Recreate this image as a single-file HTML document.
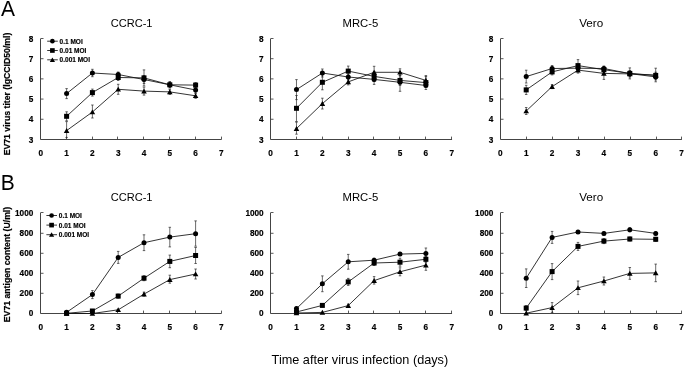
<!DOCTYPE html>
<html lang="en"><head><meta charset="utf-8"><title>EV71 growth in CCRC-1, MRC-5 and Vero cells</title>
<style>
html,body{margin:0;padding:0;background:#fff}
body{width:685px;height:367px;overflow:hidden}
svg{display:block}
text{font-family:"Liberation Sans",Arial,Helvetica,sans-serif;fill:#000}
.tk{font-size:8.6px;font-weight:bold;stroke:#000;stroke-width:0.18px}
.lg{font-size:6.5px;font-weight:bold;stroke:#000;stroke-width:0.15px}
.tt{font-size:11.2px}
.pl{font-size:21px}
.yl{font-size:8.7px;font-weight:bold;stroke:#000;stroke-width:0.2px}
.xl{font-size:12.7px}
</style></head><body>
<svg width="685" height="367" viewBox="0 0 685 367">
<rect width="685" height="367" fill="#fff"/>
<path d="M40.50 38.50V139.50H221.70" fill="none" stroke="#3a3a3a" stroke-width="0.95"/>
<path d="M40.90 119.26h2.6M40.90 99.07h2.6M40.90 78.88h2.6M40.90 58.69h2.6M40.90 38.50h2.6M66.50 139.10v-2.5M92.50 139.10v-2.5M117.50 139.10v-2.5M143.50 139.10v-2.5M169.50 139.10v-2.5M195.50 139.10v-2.5M221.50 139.10v-2.5" fill="none" stroke="#3a3a3a" stroke-width="0.85"/>
<text class="tk" transform="translate(33.30 142.55) scale(0.96 1)" text-anchor="end">3</text>
<text class="tk" transform="translate(33.30 122.36) scale(0.96 1)" text-anchor="end">4</text>
<text class="tk" transform="translate(33.30 102.17) scale(0.96 1)" text-anchor="end">5</text>
<text class="tk" transform="translate(33.30 81.98) scale(0.96 1)" text-anchor="end">6</text>
<text class="tk" transform="translate(33.30 61.79) scale(0.96 1)" text-anchor="end">7</text>
<text class="tk" transform="translate(33.30 41.60) scale(0.96 1)" text-anchor="end">8</text>
<text class="tk" transform="translate(40.80 155.65) scale(0.96 1)" text-anchor="middle">0</text>
<text class="tk" transform="translate(66.60 155.65) scale(0.96 1)" text-anchor="middle">1</text>
<text class="tk" transform="translate(92.40 155.65) scale(0.96 1)" text-anchor="middle">2</text>
<text class="tk" transform="translate(118.20 155.65) scale(0.96 1)" text-anchor="middle">3</text>
<text class="tk" transform="translate(144.00 155.65) scale(0.96 1)" text-anchor="middle">4</text>
<text class="tk" transform="translate(169.80 155.65) scale(0.96 1)" text-anchor="middle">5</text>
<text class="tk" transform="translate(195.60 155.65) scale(0.96 1)" text-anchor="middle">6</text>
<text class="tk" transform="translate(221.40 155.65) scale(0.96 1)" text-anchor="middle">7</text>
<text class="tt" transform="translate(110.70 27.30) scale(0.99 1.05)">CCRC-1</text>
<path d="M66.60 88.60V98.60M65.35 88.60h2.5M65.35 98.60h2.5M92.40 69.30V76.70M91.15 69.30h2.5M91.15 76.70h2.5M118.20 72.00V77.00M116.95 72.00h2.5M116.95 77.00h2.5M144.00 75.50V83.50M142.75 75.50h2.5M142.75 83.50h2.5M169.80 81.80V87.80M168.55 81.80h2.5M168.55 87.80h2.5M195.60 87.00V93.00M194.35 87.00h2.5M194.35 93.00h2.5M66.60 111.80V120.80M65.35 111.80h2.5M65.35 120.80h2.5M92.40 89.10V96.10M91.15 89.10h2.5M91.15 96.10h2.5M118.20 74.50V80.50M116.95 74.50h2.5M116.95 80.50h2.5M144.00 69.90V85.90M142.75 69.90h2.5M142.75 85.90h2.5M169.80 81.80V87.80M168.55 81.80h2.5M168.55 87.80h2.5M195.60 82.60V87.60M194.35 82.60h2.5M194.35 87.60h2.5M66.60 121.60V137.60M65.35 121.60h2.5M65.35 137.60h2.5M92.40 105.00V118.00M91.15 105.00h2.5M91.15 118.00h2.5M118.20 84.30V94.30M116.95 84.30h2.5M116.95 94.30h2.5M144.00 87.10V95.10M142.75 87.10h2.5M142.75 95.10h2.5M169.80 89.40V94.40M168.55 89.40h2.5M168.55 94.40h2.5M195.60 93.30V98.30M194.35 93.30h2.5M194.35 98.30h2.5" fill="none" stroke="#2a2a2a" stroke-width="0.7"/>
<polyline points="66.60,93.60 92.40,73.00 118.20,74.50 144.00,79.50 169.80,84.80 195.60,90.00" fill="none" stroke="#111" stroke-width="0.85"/>
<polyline points="66.60,116.30 92.40,92.60 118.20,77.50 144.00,77.90 169.80,84.80 195.60,85.10" fill="none" stroke="#111" stroke-width="0.85"/>
<polyline points="66.60,130.60 92.40,112.00 118.20,89.30 144.00,91.10 169.80,91.90 195.60,95.80" fill="none" stroke="#111" stroke-width="0.85"/>
<g fill="#000"><circle cx="66.60" cy="93.60" r="2.50"/><circle cx="92.40" cy="73.00" r="2.50"/><circle cx="118.20" cy="74.50" r="2.50"/><circle cx="144.00" cy="79.50" r="2.50"/><circle cx="169.80" cy="84.80" r="2.50"/><circle cx="195.60" cy="90.00" r="2.50"/></g>
<g fill="#000"><rect x="64.10" y="113.80" width="5.00" height="5.00"/><rect x="89.90" y="90.10" width="5.00" height="5.00"/><rect x="115.70" y="75.00" width="5.00" height="5.00"/><rect x="141.50" y="75.40" width="5.00" height="5.00"/><rect x="167.30" y="82.30" width="5.00" height="5.00"/><rect x="193.10" y="82.60" width="5.00" height="5.00"/></g>
<g fill="#000"><path d="M66.60 128.00L69.40 132.90L63.80 132.90Z"/><path d="M92.40 109.40L95.20 114.30L89.60 114.30Z"/><path d="M118.20 86.70L121.00 91.60L115.40 91.60Z"/><path d="M144.00 88.50L146.80 93.40L141.20 93.40Z"/><path d="M169.80 89.30L172.60 94.20L167.00 94.20Z"/><path d="M195.60 93.20L198.40 98.10L192.80 98.10Z"/></g>
<path d="M47.20 41.20h10.6" stroke="#111" stroke-width="0.85"/>
<g fill="#000"><circle cx="52.40" cy="41.20" r="2.33"/></g>
<text class="lg" x="59.60" y="43.60">0.1 MOI</text>
<path d="M47.20 50.50h10.6" stroke="#111" stroke-width="0.85"/>
<g fill="#000"><rect x="50.07" y="48.17" width="4.65" height="4.65"/></g>
<text class="lg" x="59.60" y="52.90">0.01 MOI</text>
<path d="M47.20 59.80h10.6" stroke="#111" stroke-width="0.85"/>
<g fill="#000"><path d="M52.40 57.38L55.00 61.94L49.80 61.94Z"/></g>
<text class="lg" x="59.60" y="62.20">0.001 MOI</text>
<path d="M270.50 38.50V139.50H452.06" fill="none" stroke="#3a3a3a" stroke-width="0.95"/>
<path d="M270.90 119.26h2.6M270.90 99.07h2.6M270.90 78.88h2.6M270.90 58.69h2.6M270.90 38.50h2.6M296.50 139.10v-2.5M322.50 139.10v-2.5M348.50 139.10v-2.5M373.50 139.10v-2.5M399.50 139.10v-2.5M425.50 139.10v-2.5M451.50 139.10v-2.5" fill="none" stroke="#3a3a3a" stroke-width="0.85"/>
<text class="tk" transform="translate(263.70 142.55) scale(0.96 1)" text-anchor="end">3</text>
<text class="tk" transform="translate(263.70 122.36) scale(0.96 1)" text-anchor="end">4</text>
<text class="tk" transform="translate(263.70 102.17) scale(0.96 1)" text-anchor="end">5</text>
<text class="tk" transform="translate(263.70 81.98) scale(0.96 1)" text-anchor="end">6</text>
<text class="tk" transform="translate(263.70 61.79) scale(0.96 1)" text-anchor="end">7</text>
<text class="tk" transform="translate(263.70 41.60) scale(0.96 1)" text-anchor="end">8</text>
<text class="tk" transform="translate(270.60 155.65) scale(0.96 1)" text-anchor="middle">0</text>
<text class="tk" transform="translate(296.48 155.65) scale(0.96 1)" text-anchor="middle">1</text>
<text class="tk" transform="translate(322.36 155.65) scale(0.96 1)" text-anchor="middle">2</text>
<text class="tk" transform="translate(348.24 155.65) scale(0.96 1)" text-anchor="middle">3</text>
<text class="tk" transform="translate(374.12 155.65) scale(0.96 1)" text-anchor="middle">4</text>
<text class="tk" transform="translate(400.00 155.65) scale(0.96 1)" text-anchor="middle">5</text>
<text class="tk" transform="translate(425.88 155.65) scale(0.96 1)" text-anchor="middle">6</text>
<text class="tk" transform="translate(451.76 155.65) scale(0.96 1)" text-anchor="middle">7</text>
<text class="tt" transform="translate(342.50 27.30) scale(1.012 1.05)">MRC-5</text>
<path d="M296.48 79.60V99.60M295.23 79.60h2.5M295.23 99.60h2.5M322.36 69.00V77.00M321.11 69.00h2.5M321.11 77.00h2.5M348.24 74.00V80.00M346.99 74.00h2.5M346.99 80.00h2.5M374.12 74.40V84.40M372.87 74.40h2.5M372.87 84.40h2.5M400.00 73.30V91.30M398.75 73.30h2.5M398.75 91.30h2.5M425.88 81.50V89.50M424.63 81.50h2.5M424.63 89.50h2.5M296.48 95.50V121.60M295.23 95.50h2.5M295.23 121.60h2.5M322.36 74.80V89.80M321.11 74.80h2.5M321.11 89.80h2.5M348.24 66.10V76.10M346.99 66.10h2.5M346.99 76.10h2.5M374.12 71.40V81.40M372.87 71.40h2.5M372.87 81.40h2.5M400.00 75.40V85.40M398.75 75.40h2.5M398.75 85.40h2.5M425.88 75.60V86.60M424.63 75.60h2.5M424.63 86.60h2.5M296.48 122.10V134.20M295.23 122.10h2.5M295.23 134.20h2.5M322.36 98.20V109.00M321.11 98.20h2.5M321.11 109.00h2.5M348.24 78.90V84.90M346.99 78.90h2.5M346.99 84.90h2.5M374.12 66.30V78.30M372.87 66.30h2.5M372.87 78.30h2.5M400.00 68.80V75.80M398.75 68.80h2.5M398.75 75.80h2.5M425.88 76.40V84.40M424.63 76.40h2.5M424.63 84.40h2.5" fill="none" stroke="#2a2a2a" stroke-width="0.7"/>
<polyline points="296.48,89.60 322.36,73.00 348.24,77.00 374.12,79.40 400.00,82.30 425.88,85.50" fill="none" stroke="#111" stroke-width="0.85"/>
<polyline points="296.48,108.30 322.36,82.30 348.24,71.10 374.12,76.40 400.00,80.40 425.88,82.60" fill="none" stroke="#111" stroke-width="0.85"/>
<polyline points="296.48,128.60 322.36,103.60 348.24,81.90 374.12,72.30 400.00,72.30 425.88,80.40" fill="none" stroke="#111" stroke-width="0.85"/>
<g fill="#000"><circle cx="296.48" cy="89.60" r="2.50"/><circle cx="322.36" cy="73.00" r="2.50"/><circle cx="348.24" cy="77.00" r="2.50"/><circle cx="374.12" cy="79.40" r="2.50"/><circle cx="400.00" cy="82.30" r="2.50"/><circle cx="425.88" cy="85.50" r="2.50"/></g>
<g fill="#000"><rect x="293.98" y="105.80" width="5.00" height="5.00"/><rect x="319.86" y="79.80" width="5.00" height="5.00"/><rect x="345.74" y="68.60" width="5.00" height="5.00"/><rect x="371.62" y="73.90" width="5.00" height="5.00"/><rect x="397.50" y="77.90" width="5.00" height="5.00"/><rect x="423.38" y="80.10" width="5.00" height="5.00"/></g>
<g fill="#000"><path d="M296.48 126.00L299.28 130.90L293.68 130.90Z"/><path d="M322.36 101.00L325.16 105.90L319.56 105.90Z"/><path d="M348.24 79.30L351.04 84.20L345.44 84.20Z"/><path d="M374.12 69.70L376.92 74.60L371.32 74.60Z"/><path d="M400.00 69.70L402.80 74.60L397.20 74.60Z"/><path d="M425.88 77.80L428.68 82.70L423.08 82.70Z"/></g>
<path d="M500.50 38.50V139.50H681.90" fill="none" stroke="#3a3a3a" stroke-width="0.95"/>
<path d="M500.90 119.26h2.6M500.90 99.07h2.6M500.90 78.88h2.6M500.90 58.69h2.6M500.90 38.50h2.6M526.50 139.10v-2.5M552.50 139.10v-2.5M578.50 139.10v-2.5M604.50 139.10v-2.5M630.50 139.10v-2.5M656.50 139.10v-2.5M681.50 139.10v-2.5" fill="none" stroke="#3a3a3a" stroke-width="0.85"/>
<text class="tk" transform="translate(493.40 142.55) scale(0.96 1)" text-anchor="end">3</text>
<text class="tk" transform="translate(493.40 122.36) scale(0.96 1)" text-anchor="end">4</text>
<text class="tk" transform="translate(493.40 102.17) scale(0.96 1)" text-anchor="end">5</text>
<text class="tk" transform="translate(493.40 81.98) scale(0.96 1)" text-anchor="end">6</text>
<text class="tk" transform="translate(493.40 61.79) scale(0.96 1)" text-anchor="end">7</text>
<text class="tk" transform="translate(493.40 41.60) scale(0.96 1)" text-anchor="end">8</text>
<text class="tk" transform="translate(500.30 155.65) scale(0.96 1)" text-anchor="middle">0</text>
<text class="tk" transform="translate(526.20 155.65) scale(0.96 1)" text-anchor="middle">1</text>
<text class="tk" transform="translate(552.10 155.65) scale(0.96 1)" text-anchor="middle">2</text>
<text class="tk" transform="translate(578.00 155.65) scale(0.96 1)" text-anchor="middle">3</text>
<text class="tk" transform="translate(603.90 155.65) scale(0.96 1)" text-anchor="middle">4</text>
<text class="tk" transform="translate(629.80 155.65) scale(0.96 1)" text-anchor="middle">5</text>
<text class="tk" transform="translate(655.70 155.65) scale(0.96 1)" text-anchor="middle">6</text>
<text class="tk" transform="translate(681.60 155.65) scale(0.96 1)" text-anchor="middle">7</text>
<text class="tt" transform="translate(579.20 27.30) scale(1.043 1.05)">Vero</text>
<path d="M526.20 70.20V83.00M524.95 70.20h2.5M524.95 83.00h2.5M552.10 65.50V71.50M550.85 65.50h2.5M550.85 71.50h2.5M578.00 65.20V71.20M576.75 65.20h2.5M576.75 71.20h2.5M603.90 66.00V71.00M602.65 66.00h2.5M602.65 71.00h2.5M629.80 70.60V76.60M628.55 70.60h2.5M628.55 76.60h2.5M655.70 73.90V79.90M654.45 73.90h2.5M654.45 79.90h2.5M526.20 85.30V94.50M524.95 85.30h2.5M524.95 94.50h2.5M552.10 68.90V74.90M550.85 68.90h2.5M550.85 74.90h2.5M578.00 59.60V69.60M576.75 59.60h2.5M576.75 69.60h2.5M603.90 66.70V72.70M602.65 66.70h2.5M602.65 72.70h2.5M629.80 67.90V78.90M628.55 67.90h2.5M628.55 78.90h2.5M655.70 68.20V81.80M654.45 68.20h2.5M654.45 81.80h2.5M526.20 107.50V114.50M524.95 107.50h2.5M524.95 114.50h2.5M552.10 84.60V88.60M550.85 84.60h2.5M550.85 88.60h2.5M578.00 67.10V73.10M576.75 67.10h2.5M576.75 73.10h2.5M603.90 69.40V79.40M602.65 69.40h2.5M602.65 79.40h2.5M629.80 70.90V76.90M628.55 70.90h2.5M628.55 76.90h2.5M655.70 72.20V78.20M654.45 72.20h2.5M654.45 78.20h2.5" fill="none" stroke="#2a2a2a" stroke-width="0.7"/>
<polyline points="526.20,76.60 552.10,68.50 578.00,68.20 603.90,68.50 629.80,73.60 655.70,76.90" fill="none" stroke="#111" stroke-width="0.85"/>
<polyline points="526.20,89.90 552.10,71.90 578.00,65.60 603.90,69.70 629.80,73.40 655.70,75.40" fill="none" stroke="#111" stroke-width="0.85"/>
<polyline points="526.20,111.00 552.10,86.60 578.00,70.10 603.90,73.40 629.80,73.90 655.70,75.20" fill="none" stroke="#111" stroke-width="0.85"/>
<g fill="#000"><circle cx="526.20" cy="76.60" r="2.50"/><circle cx="552.10" cy="68.50" r="2.50"/><circle cx="578.00" cy="68.20" r="2.50"/><circle cx="603.90" cy="68.50" r="2.50"/><circle cx="629.80" cy="73.60" r="2.50"/><circle cx="655.70" cy="76.90" r="2.50"/></g>
<g fill="#000"><rect x="523.70" y="87.40" width="5.00" height="5.00"/><rect x="549.60" y="69.40" width="5.00" height="5.00"/><rect x="575.50" y="63.10" width="5.00" height="5.00"/><rect x="601.40" y="67.20" width="5.00" height="5.00"/><rect x="627.30" y="70.90" width="5.00" height="5.00"/><rect x="653.20" y="72.90" width="5.00" height="5.00"/></g>
<g fill="#000"><path d="M526.20 108.40L529.00 113.30L523.40 113.30Z"/><path d="M552.10 84.00L554.90 88.90L549.30 88.90Z"/><path d="M578.00 67.50L580.80 72.40L575.20 72.40Z"/><path d="M603.90 70.80L606.70 75.70L601.10 75.70Z"/><path d="M629.80 71.30L632.60 76.20L627.00 76.20Z"/><path d="M655.70 72.60L658.50 77.50L652.90 77.50Z"/></g>
<path d="M40.50 212.50V313.50H221.70" fill="none" stroke="#3a3a3a" stroke-width="0.95"/>
<path d="M40.90 293.30h2.6M40.90 273.30h2.6M40.90 253.30h2.6M40.90 233.30h2.6M40.90 212.50h2.6M66.50 313.10v-2.5M92.50 313.10v-2.5M117.50 313.10v-2.5M143.50 313.10v-2.5M169.50 313.10v-2.5M195.50 313.10v-2.5M221.50 313.10v-2.5" fill="none" stroke="#3a3a3a" stroke-width="0.85"/>
<text class="tk" transform="translate(33.30 316.40) scale(0.96 1)" text-anchor="end">0</text>
<text class="tk" transform="translate(33.30 296.40) scale(0.96 1)" text-anchor="end">200</text>
<text class="tk" transform="translate(33.30 276.40) scale(0.96 1)" text-anchor="end">400</text>
<text class="tk" transform="translate(33.30 256.40) scale(0.96 1)" text-anchor="end">600</text>
<text class="tk" transform="translate(33.30 236.40) scale(0.96 1)" text-anchor="end">800</text>
<text class="tk" transform="translate(33.30 216.40) scale(0.96 1)" text-anchor="end">1000</text>
<text class="tk" transform="translate(40.80 329.65) scale(0.96 1)" text-anchor="middle">0</text>
<text class="tk" transform="translate(66.60 329.65) scale(0.96 1)" text-anchor="middle">1</text>
<text class="tk" transform="translate(92.40 329.65) scale(0.96 1)" text-anchor="middle">2</text>
<text class="tk" transform="translate(118.20 329.65) scale(0.96 1)" text-anchor="middle">3</text>
<text class="tk" transform="translate(144.00 329.65) scale(0.96 1)" text-anchor="middle">4</text>
<text class="tk" transform="translate(169.80 329.65) scale(0.96 1)" text-anchor="middle">5</text>
<text class="tk" transform="translate(195.60 329.65) scale(0.96 1)" text-anchor="middle">6</text>
<text class="tk" transform="translate(221.40 329.65) scale(0.96 1)" text-anchor="middle">7</text>
<text class="tt" transform="translate(110.70 201.10) scale(0.99 1.05)">CCRC-1</text>
<path d="M92.40 290.60V298.60M91.15 290.60h2.5M91.15 298.60h2.5M118.20 251.40V263.40M116.95 251.40h2.5M116.95 263.40h2.5M144.00 234.80V250.60M142.75 234.80h2.5M142.75 250.60h2.5M169.80 227.30V246.90M168.55 227.30h2.5M168.55 246.90h2.5M195.60 220.90V246.20M194.35 220.90h2.5M194.35 246.20h2.5M118.20 294.10V298.10M116.95 294.10h2.5M116.95 298.10h2.5M144.00 275.70V280.70M142.75 275.70h2.5M142.75 280.70h2.5M169.80 255.10V267.70M168.55 255.10h2.5M168.55 267.70h2.5M195.60 247.50V263.50M194.35 247.50h2.5M194.35 263.50h2.5M144.00 292.10V296.10M142.75 292.10h2.5M142.75 296.10h2.5M169.80 275.20V283.20M168.55 275.20h2.5M168.55 283.20h2.5M195.60 269.00V279.00M194.35 269.00h2.5M194.35 279.00h2.5" fill="none" stroke="#2a2a2a" stroke-width="0.7"/>
<polyline points="66.60,312.30 92.40,294.60 118.20,257.40 144.00,242.70 169.80,237.10 195.60,233.70" fill="none" stroke="#111" stroke-width="0.85"/>
<polyline points="66.60,313.30 92.40,311.00 118.20,296.10 144.00,278.20 169.80,261.40 195.60,255.50" fill="none" stroke="#111" stroke-width="0.85"/>
<polyline points="66.60,313.50 92.40,313.50 118.20,309.80 144.00,294.10 169.80,279.60 195.60,274.00" fill="none" stroke="#111" stroke-width="0.85"/>
<g fill="#000"><circle cx="66.60" cy="312.30" r="2.50"/><circle cx="92.40" cy="294.60" r="2.50"/><circle cx="118.20" cy="257.40" r="2.50"/><circle cx="144.00" cy="242.70" r="2.50"/><circle cx="169.80" cy="237.10" r="2.50"/><circle cx="195.60" cy="233.70" r="2.50"/></g>
<g fill="#000"><rect x="64.10" y="310.80" width="5.00" height="5.00"/><rect x="89.90" y="308.50" width="5.00" height="5.00"/><rect x="115.70" y="293.60" width="5.00" height="5.00"/><rect x="141.50" y="275.70" width="5.00" height="5.00"/><rect x="167.30" y="258.90" width="5.00" height="5.00"/><rect x="193.10" y="253.00" width="5.00" height="5.00"/></g>
<g fill="#000"><path d="M66.60 310.90L69.40 315.80L63.80 315.80Z"/><path d="M92.40 310.90L95.20 315.80L89.60 315.80Z"/><path d="M118.20 307.20L121.00 312.10L115.40 312.10Z"/><path d="M144.00 291.50L146.80 296.40L141.20 296.40Z"/><path d="M169.80 277.00L172.60 281.90L167.00 281.90Z"/><path d="M195.60 271.40L198.40 276.30L192.80 276.30Z"/></g>
<path d="M46.40 215.50h10.6" stroke="#111" stroke-width="0.85"/>
<g fill="#000"><circle cx="51.60" cy="215.50" r="2.33"/></g>
<text class="lg" x="58.80" y="217.90">0.1 MOI</text>
<path d="M46.40 225.10h10.6" stroke="#111" stroke-width="0.85"/>
<g fill="#000"><rect x="49.27" y="222.78" width="4.65" height="4.65"/></g>
<text class="lg" x="58.80" y="227.50">0.01 MOI</text>
<path d="M46.40 234.70h10.6" stroke="#111" stroke-width="0.85"/>
<g fill="#000"><path d="M51.60 232.28L54.20 236.84L49.00 236.84Z"/></g>
<text class="lg" x="58.80" y="237.10">0.001 MOI</text>
<path d="M270.50 212.50V313.50H452.06" fill="none" stroke="#3a3a3a" stroke-width="0.95"/>
<path d="M270.90 293.30h2.6M270.90 273.30h2.6M270.90 253.30h2.6M270.90 233.30h2.6M270.90 212.50h2.6M296.50 313.10v-2.5M322.50 313.10v-2.5M348.50 313.10v-2.5M373.50 313.10v-2.5M399.50 313.10v-2.5M425.50 313.10v-2.5M451.50 313.10v-2.5" fill="none" stroke="#3a3a3a" stroke-width="0.85"/>
<text class="tk" transform="translate(263.70 316.40) scale(0.96 1)" text-anchor="end">0</text>
<text class="tk" transform="translate(263.70 296.40) scale(0.96 1)" text-anchor="end">200</text>
<text class="tk" transform="translate(263.70 276.40) scale(0.96 1)" text-anchor="end">400</text>
<text class="tk" transform="translate(263.70 256.40) scale(0.96 1)" text-anchor="end">600</text>
<text class="tk" transform="translate(263.70 236.40) scale(0.96 1)" text-anchor="end">800</text>
<text class="tk" transform="translate(263.70 216.40) scale(0.96 1)" text-anchor="end">1000</text>
<text class="tk" transform="translate(270.60 329.65) scale(0.96 1)" text-anchor="middle">0</text>
<text class="tk" transform="translate(296.48 329.65) scale(0.96 1)" text-anchor="middle">1</text>
<text class="tk" transform="translate(322.36 329.65) scale(0.96 1)" text-anchor="middle">2</text>
<text class="tk" transform="translate(348.24 329.65) scale(0.96 1)" text-anchor="middle">3</text>
<text class="tk" transform="translate(374.12 329.65) scale(0.96 1)" text-anchor="middle">4</text>
<text class="tk" transform="translate(400.00 329.65) scale(0.96 1)" text-anchor="middle">5</text>
<text class="tk" transform="translate(425.88 329.65) scale(0.96 1)" text-anchor="middle">6</text>
<text class="tk" transform="translate(451.76 329.65) scale(0.96 1)" text-anchor="middle">7</text>
<text class="tt" transform="translate(342.50 201.10) scale(1.012 1.05)">MRC-5</text>
<path d="M296.48 307.10V310.10M295.23 307.10h2.5M295.23 310.10h2.5M322.36 275.90V291.70M321.11 275.90h2.5M321.11 291.70h2.5M348.24 254.40V269.20M346.99 254.40h2.5M346.99 269.20h2.5M374.12 258.20V262.20M372.87 258.20h2.5M372.87 262.20h2.5M400.00 252.60V255.60M398.75 252.60h2.5M398.75 255.60h2.5M425.88 248.00V256.40M424.63 248.00h2.5M424.63 256.40h2.5M322.36 303.90V306.90M321.11 303.90h2.5M321.11 306.90h2.5M348.24 278.40V285.40M346.99 278.40h2.5M346.99 285.40h2.5M374.12 260.50V265.50M372.87 260.50h2.5M372.87 265.50h2.5M400.00 258.20V266.20M398.75 258.20h2.5M398.75 266.20h2.5M425.88 256.30V262.30M424.63 256.30h2.5M424.63 262.30h2.5M348.24 304.10V307.10M346.99 304.10h2.5M346.99 307.10h2.5M374.12 276.60V284.10M372.87 276.60h2.5M372.87 284.10h2.5M400.00 267.80V275.80M398.75 267.80h2.5M398.75 275.80h2.5M425.88 261.10V270.30M424.63 261.10h2.5M424.63 270.30h2.5" fill="none" stroke="#2a2a2a" stroke-width="0.7"/>
<polyline points="296.48,308.60 322.36,283.80 348.24,261.80 374.12,260.20 400.00,254.10 425.88,253.40" fill="none" stroke="#111" stroke-width="0.85"/>
<polyline points="296.48,312.00 322.36,305.40 348.24,281.90 374.12,263.00 400.00,262.20 425.88,259.30" fill="none" stroke="#111" stroke-width="0.85"/>
<polyline points="296.48,313.00 322.36,312.40 348.24,305.60 374.12,280.60 400.00,271.80 425.88,265.10" fill="none" stroke="#111" stroke-width="0.85"/>
<g fill="#000"><circle cx="296.48" cy="308.60" r="2.50"/><circle cx="322.36" cy="283.80" r="2.50"/><circle cx="348.24" cy="261.80" r="2.50"/><circle cx="374.12" cy="260.20" r="2.50"/><circle cx="400.00" cy="254.10" r="2.50"/><circle cx="425.88" cy="253.40" r="2.50"/></g>
<g fill="#000"><rect x="293.98" y="309.50" width="5.00" height="5.00"/><rect x="319.86" y="302.90" width="5.00" height="5.00"/><rect x="345.74" y="279.40" width="5.00" height="5.00"/><rect x="371.62" y="260.50" width="5.00" height="5.00"/><rect x="397.50" y="259.70" width="5.00" height="5.00"/><rect x="423.38" y="256.80" width="5.00" height="5.00"/></g>
<g fill="#000"><path d="M296.48 310.40L299.28 315.30L293.68 315.30Z"/><path d="M322.36 309.80L325.16 314.70L319.56 314.70Z"/><path d="M348.24 303.00L351.04 307.90L345.44 307.90Z"/><path d="M374.12 278.00L376.92 282.90L371.32 282.90Z"/><path d="M400.00 269.20L402.80 274.10L397.20 274.10Z"/><path d="M425.88 262.50L428.68 267.40L423.08 267.40Z"/></g>
<path d="M500.50 212.50V313.50H681.90" fill="none" stroke="#3a3a3a" stroke-width="0.95"/>
<path d="M500.90 293.30h2.6M500.90 273.30h2.6M500.90 253.30h2.6M500.90 233.30h2.6M500.90 212.50h2.6M526.50 313.10v-2.5M552.50 313.10v-2.5M578.50 313.10v-2.5M604.50 313.10v-2.5M630.50 313.10v-2.5M656.50 313.10v-2.5M681.50 313.10v-2.5" fill="none" stroke="#3a3a3a" stroke-width="0.85"/>
<text class="tk" transform="translate(493.40 316.40) scale(0.96 1)" text-anchor="end">0</text>
<text class="tk" transform="translate(493.40 296.40) scale(0.96 1)" text-anchor="end">200</text>
<text class="tk" transform="translate(493.40 276.40) scale(0.96 1)" text-anchor="end">400</text>
<text class="tk" transform="translate(493.40 256.40) scale(0.96 1)" text-anchor="end">600</text>
<text class="tk" transform="translate(493.40 236.40) scale(0.96 1)" text-anchor="end">800</text>
<text class="tk" transform="translate(493.40 216.40) scale(0.96 1)" text-anchor="end">1000</text>
<text class="tk" transform="translate(500.30 329.65) scale(0.96 1)" text-anchor="middle">0</text>
<text class="tk" transform="translate(526.20 329.65) scale(0.96 1)" text-anchor="middle">1</text>
<text class="tk" transform="translate(552.10 329.65) scale(0.96 1)" text-anchor="middle">2</text>
<text class="tk" transform="translate(578.00 329.65) scale(0.96 1)" text-anchor="middle">3</text>
<text class="tk" transform="translate(603.90 329.65) scale(0.96 1)" text-anchor="middle">4</text>
<text class="tk" transform="translate(629.80 329.65) scale(0.96 1)" text-anchor="middle">5</text>
<text class="tk" transform="translate(655.70 329.65) scale(0.96 1)" text-anchor="middle">6</text>
<text class="tk" transform="translate(681.60 329.65) scale(0.96 1)" text-anchor="middle">7</text>
<text class="tt" transform="translate(579.20 201.10) scale(1.043 1.05)">Vero</text>
<path d="M526.20 268.90V287.50M524.95 268.90h2.5M524.95 287.50h2.5M552.10 231.40V243.40M550.85 231.40h2.5M550.85 243.40h2.5M578.00 230.50V233.50M576.75 230.50h2.5M576.75 233.50h2.5M603.90 231.90V234.90M602.65 231.90h2.5M602.65 234.90h2.5M629.80 227.80V231.80M628.55 227.80h2.5M628.55 231.80h2.5M655.70 231.90V234.90M654.45 231.90h2.5M654.45 234.90h2.5M526.20 305.60V310.60M524.95 305.60h2.5M524.95 310.60h2.5M552.10 263.60V279.60M550.85 263.60h2.5M550.85 279.60h2.5M578.00 242.40V250.40M576.75 242.40h2.5M576.75 250.40h2.5M603.90 238.60V243.60M602.65 238.60h2.5M602.65 243.60h2.5M629.80 237.00V241.00M628.55 237.00h2.5M628.55 241.00h2.5M655.70 237.30V241.30M654.45 237.30h2.5M654.45 241.30h2.5M552.10 302.60V312.60M550.85 302.60h2.5M550.85 312.60h2.5M578.00 281.00V294.60M576.75 281.00h2.5M576.75 294.60h2.5M603.90 277.00V285.00M602.65 277.00h2.5M602.65 285.00h2.5M629.80 267.50V279.30M628.55 267.50h2.5M628.55 279.30h2.5M655.70 264.10V281.70M654.45 264.10h2.5M654.45 281.70h2.5" fill="none" stroke="#2a2a2a" stroke-width="0.7"/>
<polyline points="526.20,278.20 552.10,237.40 578.00,232.00 603.90,233.40 629.80,229.80 655.70,233.40" fill="none" stroke="#111" stroke-width="0.85"/>
<polyline points="526.20,308.10 552.10,271.60 578.00,246.40 603.90,241.10 629.80,239.00 655.70,239.30" fill="none" stroke="#111" stroke-width="0.85"/>
<polyline points="526.20,313.20 552.10,307.60 578.00,287.80 603.90,281.00 629.80,273.40 655.70,272.90" fill="none" stroke="#111" stroke-width="0.85"/>
<g fill="#000"><circle cx="526.20" cy="278.20" r="2.50"/><circle cx="552.10" cy="237.40" r="2.50"/><circle cx="578.00" cy="232.00" r="2.50"/><circle cx="603.90" cy="233.40" r="2.50"/><circle cx="629.80" cy="229.80" r="2.50"/><circle cx="655.70" cy="233.40" r="2.50"/></g>
<g fill="#000"><rect x="523.70" y="305.60" width="5.00" height="5.00"/><rect x="549.60" y="269.10" width="5.00" height="5.00"/><rect x="575.50" y="243.90" width="5.00" height="5.00"/><rect x="601.40" y="238.60" width="5.00" height="5.00"/><rect x="627.30" y="236.50" width="5.00" height="5.00"/><rect x="653.20" y="236.80" width="5.00" height="5.00"/></g>
<g fill="#000"><path d="M526.20 310.60L529.00 315.50L523.40 315.50Z"/><path d="M552.10 305.00L554.90 309.90L549.30 309.90Z"/><path d="M578.00 285.20L580.80 290.10L575.20 290.10Z"/><path d="M603.90 278.40L606.70 283.30L601.10 283.30Z"/><path d="M629.80 270.80L632.60 275.70L627.00 275.70Z"/><path d="M655.70 270.30L658.50 275.20L652.90 275.20Z"/></g>
<text class="pl" transform="translate(0.9 15.9) scale(1 1.058)">A</text>
<text class="pl" transform="translate(0.8 189.7) scale(1 1.058)">B</text>
<text class="yl" transform="translate(10.2 155.3) rotate(-90)">EV71 virus titer (lgCCID50/ml)</text>
<text class="yl" transform="translate(9.9 322.2) rotate(-90)">EV71 antigen content (U/ml)</text>
<text class="xl" transform="translate(271.6 363.5) scale(1 1.06)">Time after virus infection (days)</text>
</svg>
</body></html>
